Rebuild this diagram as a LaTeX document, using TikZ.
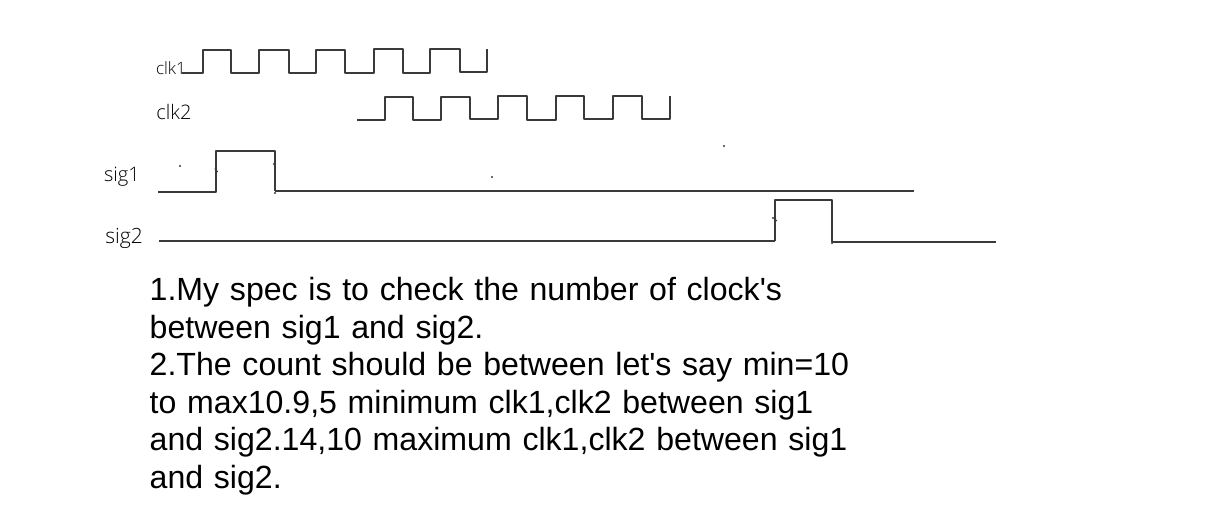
\documentclass[tikz,border=0pt]{standalone}
\usepackage{fontspec}
\newfontfamily\bodyfont{Liberation Sans}
\newfontfamily\handfont{Open Sans Light}
\definecolor{ink}{HTML}{3A3A3A}
\tikzset{
  wave/.style={draw=ink,line width=1.6pt,line join=round},
  thickwave/.style={draw=ink,line width=2.1pt},
  handlabel/.style={font=\handfont\fontsize{#1}{#1}\selectfont,text=black,inner sep=0pt},
  speck/.style={fill=ink,draw=none,circle,minimum size=2.4pt,inner sep=0pt},
  bodytext/.style={font=\bodyfont\fontsize{32.1}{37.6}\selectfont,text=black,inner sep=0pt,align=left,text width=800pt}
}
\begin{document}
\begin{tikzpicture}[x=1pt,y=-1pt]
\useasboundingbox (0,0) rectangle (1209,517);
\fill[white] (0,0) rectangle (1209,517);
\node[handlabel=17] (clkone) at (171,68) {clk1};
\node[handlabel=20] (clktwo) at (174,112) {clk2};
\node[handlabel=20] (sigone) at (122,177) {sig1};
\node[handlabel=21] (sigtwo) at (124,238) {sig2};
% clk1
\draw[wave] (182,73) -| (203,50) -| (231,73) -| (259,50) -| (289,73) -| (316,50) -| (345,73) -| (374,49) -| (403,73) -| (430,49) -| (460,72) -| (487,49);
% clk2
\draw[wave] (357,120) -| (385,97) -| (413,120) -| (441,97) -| (470,119) -| (498,96) -| (527,120) -| (556,96) -| (584,119) -| (613,96) -| (642,119) -| (670,96);
% sig1
\draw[wave] (158,192) -| (216,151) -| (275,191);
\draw[thickwave] (275,191) -- (914,191);
% sig2
\draw[thickwave] (159,241) -- (775,241);
\draw[wave] (775,241) |- (832,200) -- (832,242);
\draw[thickwave] (832,242) -- (996,242);
% specks
\foreach \p in {(180,166),(492,177),(724,146),(215.5,169),(217,171.5),(274,164),(275,193),(773,218),(776,220.5),(832,243)}
  \node[speck] at \p {};
\node[bodytext,anchor=north west] (spec) at (149.5,277) {1.My spec is to check the number of clock's\\
between sig1 and sig2.\\
2.The count should be between let's say min=10\\
to max10.9,5 minimum clk1,clk2 between sig1\\
and sig2.14,10 maximum clk1,clk2 between sig1\\
and sig2.};
\end{tikzpicture}
\end{document}
